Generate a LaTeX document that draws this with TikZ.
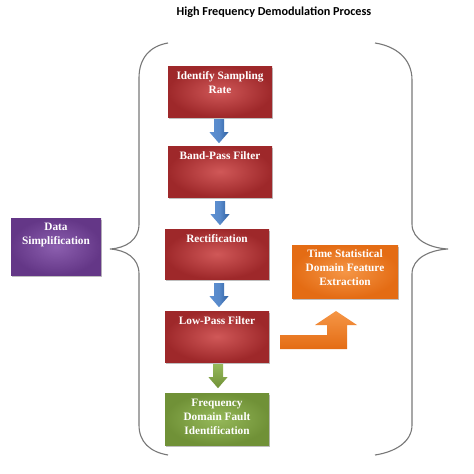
\documentclass[tikz,border=0pt]{standalone}
\usepackage{fontspec}
\setmainfont{Liberation Serif}
\newfontfamily\titlefont{Carlito}
\usetikzlibrary{shadows,calc}
\definecolor{redin}{RGB}{208,88,88}
\definecolor{redout}{RGB}{158,40,42}
\definecolor{purin}{RGB}{140,95,175}
\definecolor{purout}{RGB}{100,55,135}
\definecolor{orin}{RGB}{245,150,70}
\definecolor{orout}{RGB}{228,108,20}
\definecolor{grin}{RGB}{150,185,90}
\definecolor{grout}{RGB}{112,145,55}
\definecolor{bluelt}{RGB}{95,145,210}
\definecolor{bluedk}{RGB}{45,95,160}
\definecolor{bracegray}{RGB}{120,120,120}
\begin{document}
\begin{tikzpicture}[x=1pt,y=-1pt,
  boxbase/.style={rectangle, inner sep=0pt, draw=none,
    drop shadow={shadow xshift=1pt,shadow yshift=-1.5pt,opacity=0.5}},
  redbox/.style={boxbase, inner color=redin, outer color=redout},
  purbox/.style={boxbase, inner color=purin, outer color=purout},
  orbox/.style={boxbase, inner color=orin, outer color=orout},
  grbox/.style={boxbase, inner color=grin, outer color=grout},
  lbl/.style={anchor=north, text=white, inner sep=0pt, align=center,
    font=\fontsize{11.3}{14}\selectfont\bfseries},
  brace/.style={draw=bracegray, line width=1.1pt},
  bluedown/.pic={\shade[left color=bluelt, right color=bluedk, middle color=bluelt!85!bluedk]
     (-5,0) -- (5,0) -- (5,13) -- (9.5,13) -- (0,24) -- (-9.5,13) -- (-5,13) -- cycle;},
  greendown/.pic={\shade[top color=grin, bottom color=grout]
     (-5,0) -- (5,0) -- (5,13) -- (9.5,13) -- (0,24) -- (-9.5,13) -- (-5,13) -- cycle;}
]
\useasboundingbox (0,0) rectangle (474,474);
\fill[white] (0,0) rectangle (474,474);

% title
\node[font=\titlefont\fontsize{12.2}{14}\selectfont\bfseries] (title) at (274,12) {High Frequency Demodulation Process};

% braces
\draw[brace] (168,43) .. controls (150,46) and (139,58) .. (139,78) -- (139,224)
  .. controls (139,240) and (126,248) .. (110,249)
  .. controls (126,250) and (139,258) .. (139,274) -- (139,425)
  .. controls (139,442) and (150,452) .. (168,455);
\draw[brace] (375,43) .. controls (395,46) and (412,58) .. (412,80) -- (412,224)
  .. controls (412,240) and (430,248) .. (448,249)
  .. controls (430,250) and (412,258) .. (412,274) -- (412,425)
  .. controls (412,442) and (395,452) .. (375,455);

% boxes
\node[redbox, minimum width=104pt, minimum height=51pt] (b1) at (220,91.5) {};
\node[redbox, minimum width=104pt, minimum height=51pt] (b2) at (220,171.5) {};
\node[redbox, minimum width=104pt, minimum height=50pt] (b3) at (217,254) {};
\node[redbox, minimum width=104pt, minimum height=51pt] (b4) at (217,336.5) {};
\node[grbox, minimum width=104pt, minimum height=52pt] (b5) at (217,419) {};
\node[purbox, minimum width=90pt, minimum height=57pt] (ds) at (56,246.5) {};
\node[orbox, minimum width=106pt, minimum height=53pt] (ts) at (345,271.5) {};

% labels
\node[lbl] (t1) at ($(b1.north)+(0,6)$) {Identify Sampling\\Rate};
\node[lbl] (t2) at ($(b2.north)+(0,6)$) {Band-Pass Filter};
\node[lbl] (t3) at ($(b3.north)+(0,6)$) {Rectification};
\node[lbl] (t4) at ($(b4.north)+(0,6)$) {Low-Pass Filter};
\node[lbl] (t5) at ($(b5.north)+(0,6)$) {Frequency\\Domain Fault\\Identification};
\node[lbl] (t6) at ($(ds.north)+(0,5)$) {Data\\Simplification};
\node[lbl] (t7) at ($(ts.north)+(0,5)$) {Time Statistical\\Domain Feature\\Extraction};

% block arrows
\pic at ($(b1.south)+(-1,2)$) {bluedown};
\pic at ($(b2.south)+(0,4)$) {bluedown};
\pic at ($(b3.south)+(2,4)$) {bluedown};
\pic at ($(b4.south)+(1,2)$) {greendown};

% elbow arrow
\coordinate (eb) at ($(b4.east)+(11,-1.5)$);
\shade[top color=orin, bottom color=orout]
  (eb) -- (280,349) -- (347,349) -- (347,325) -- (357,325) -- (336,311)
  -- (315,325) -- (327,325) -- (327,335) -- cycle;
\end{tikzpicture}
\end{document}
